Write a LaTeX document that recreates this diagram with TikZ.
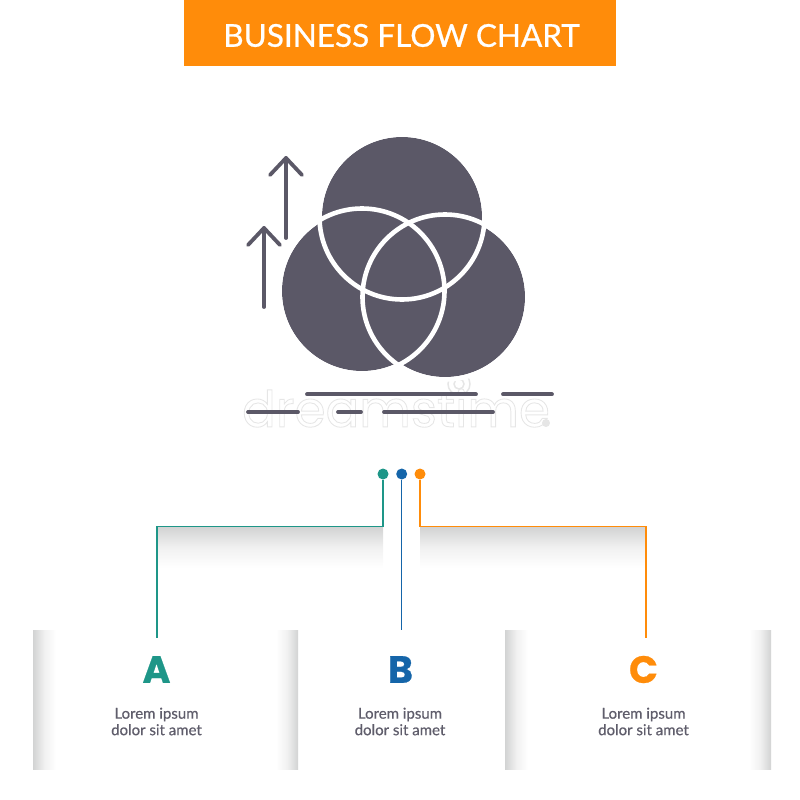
\documentclass[tikz,border=0pt]{standalone}
\usepackage{fontspec}
\setmainfont[FakeBold=0.5]{Lato}
\newfontfamily\headfont[FakeBold=0.7]{Lato}
\newfontfamily\letterfont[FakeBold=0.6]{Poppins}
\newfontfamily\markfont{Poppins}
\usepackage{xcolor}
\usetikzlibrary{positioning,calc}
\definecolor{icongrey}{HTML}{5B5867}
\definecolor{texgrey}{HTML}{5F5D6B}
\definecolor{bandgrey}{HTML}{D2D3D3}
\definecolor{bandmid}{HTML}{F1F1F1}
\definecolor{markgrey}{HTML}{E6E6E6}
\definecolor{headorange}{HTML}{FF8C0A}
\definecolor{tealA}{HTML}{1E9688}
\definecolor{blueB}{HTML}{1565A9}
\definecolor{orangeC}{HTML}{FF8C0A}
\newcommand{\outlined}[1]{\special{pdf:code 1 Tr 0.9 w}#1\special{pdf:code 0 Tr}}
\begin{document}
\begin{tikzpicture}[x=1pt,y=-1pt,
  blob/.style={circle,fill=icongrey,minimum size=160pt,inner sep=0pt},
  ring/.style={circle,draw=white,line width=4.6pt,minimum size=165pt,inner sep=0pt},
  iconline/.style={draw=icongrey,line width=3.8pt,line cap=round,line join=round},
  dot/.style={circle,fill=#1,minimum size=11pt,inner sep=0pt},
  wire/.style={draw=#1,line width=1.4pt},
  letter/.style={text=#1,font=\letterfont\fontsize{38}{38}\selectfont\bfseries,inner sep=0pt},
  lorem/.style={text=texgrey,font=\fontsize{15}{16.5}\selectfont,align=center,inner sep=0pt},
  vband/.style={top color=bandgrey,bottom color=white,middle color=bandmid},
  lband/.style={left color=bandgrey,right color=white,middle color=bandmid},
  rband/.style={left color=white,right color=bandgrey,middle color=bandmid}]
\useasboundingbox (0,0) rectangle (800,800);
\node[fill=headorange,minimum width=432pt,minimum height=66pt,inner sep=0pt] (head) at (400,33) {};
\node[text=white,inner sep=0pt,font=\headfont\fontsize{31.5}{32}\selectfont] (headtext) at (401.5,35.5) {BUSINESS FLOW CHART};
% watermark
\begin{scope}[every node/.style={text=markgrey,inner sep=0pt}]
\node[font=\markfont\fontsize{50}{50}\selectfont] (mark) at (396,408) {\outlined{dreamstime}};
\end{scope}
\draw[markgrey,line width=1.5pt] (459,384) circle (11pt) (459,384) circle (5pt);
\fill[markgrey] (546,423) circle (4pt);
% icon
\begin{scope}
\node[blob] (cTop) at (402,217) {};
\node[blob] (cLeft) at (362,291) {};
\node[blob] (cRight) at (445,297) {};
\node[ring] (rTop) at (402,217) {};
\node[ring] (rLeft) at (362,291) {};
\node[ring] (rRight) at (445,297) {};
\end{scope}
\begin{scope}[iconline]
\draw[iconline] (286,238) -- (286,158);
\draw[iconline] (270,175) -- (286,158) -- (302,175);
\draw[iconline] (264,307) -- (264,228);
\draw[iconline] (248,245) -- (264,228) -- (280,245);
\draw[iconline] (307,394.3) -- (476,394.3);
\draw[iconline] (503,394.3) -- (552,394.3);
\draw[iconline] (248,412) -- (298,412);
\draw[iconline] (338,412) -- (361,412);
\draw[iconline] (384,412) -- (493,412);
\end{scope}
% shadows
\shade[vband] (157,527) rectangle (383,568);
\shade[vband] (420,527) rectangle (646,568);
\shade[lband] (33,630) rectangle (56,769);
\shade[rband] (276,630) rectangle (298,769);
\shade[lband] (505,630) rectangle (528,769);
\shade[rband] (749,630) rectangle (771,769);
% connectors
\node[dot=tealA] (dA) at (383,474) {};
\node[dot=blueB] (dB) at (401.7,474) {};
\node[dot=orangeC] (dC) at (420,474) {};
\coordinate (kA) at (157,526.5);
\coordinate (kC) at (646,526.5);
\coordinate (eA) at (157,638);
\coordinate (eB) at (401.7,630);
\coordinate (eC) at (646,638);
\draw[wire=tealA] (dA) |- (kA) -- (eA);
\draw[wire=blueB] (dB) -- (eB);
\draw[wire=orangeC] (dC) |- (kC) -- (eC);
% labels
\node[letter=tealA] (lA) at (156.5,669.5) {A};
\node[letter=blueB] (lB) at (400.5,669.5) {B};
\node[letter=orangeC] (lC) at (643.5,669.5) {C};
\node[lorem] (tA) at (156.5,721.5) {Lorem ipsum\\dolor sit amet};
\node[lorem] (tB) at (400,721.5) {Lorem ipsum\\dolor sit amet};
\node[lorem] (tC) at (643.5,721.5) {Lorem ipsum\\dolor sit amet};
\end{tikzpicture}
\end{document}
